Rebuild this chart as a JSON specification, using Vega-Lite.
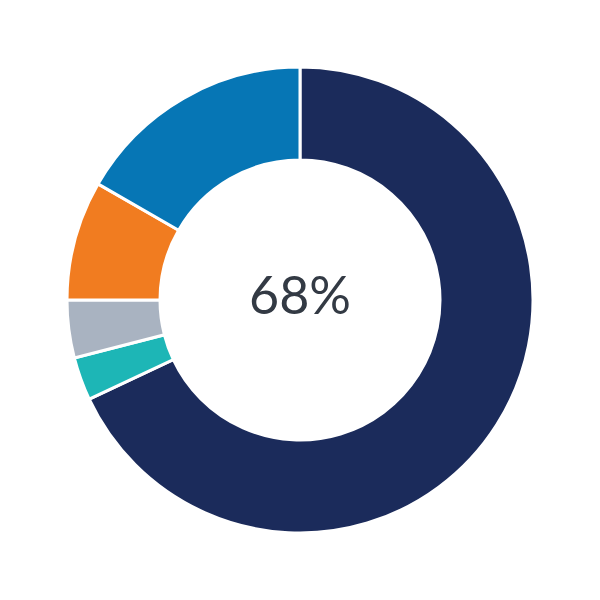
{
  "$schema": "https://vega.github.io/schema/vega-lite/v6.json",
  "autosize": {"type": "fit", "contains": "padding"},
  "width": 600,
  "height": 600,
  "padding": 0,
  "background": "white",
  "data": {
    "values": [
      {"segment": "A", "rank": 1, "share": 68},
      {"segment": "B", "rank": 2, "share": 3},
      {"segment": "C", "rank": 3, "share": 4},
      {"segment": "D", "rank": 4, "share": 8.3},
      {"segment": "E", "rank": 5, "share": 16.7}
    ]
  },
  "layer": [
    {
      "mark": {"type": "arc", "outerRadius": 233, "innerRadius": 140, "stroke": "white", "strokeWidth": 3},
      "encoding": {
        "theta": {"field": "share", "type": "quantitative", "stack": true},
        "order": {"field": "rank", "type": "quantitative"},
        "color": {
          "field": "segment",
          "type": "nominal",
          "legend": null,
          "scale": {
            "domain": ["A", "B", "C", "D", "E"],
            "range": ["#1b2b5b", "#1db6b6", "#a9b3c1", "#f17c20", "#0676b5"]
          }
        }
      }
    },
    {
      "data": {"values": [{"label": "68%"}]},
      "mark": {"type": "text", "font": "Lato", "fontWeight": 400, "fontSize": 52, "color": "#333a44", "align": "center", "baseline": "middle", "dy": -2},
      "encoding": {"text": {"field": "label"}}
    }
  ],
  "config": {"view": {"stroke": null}}
}
